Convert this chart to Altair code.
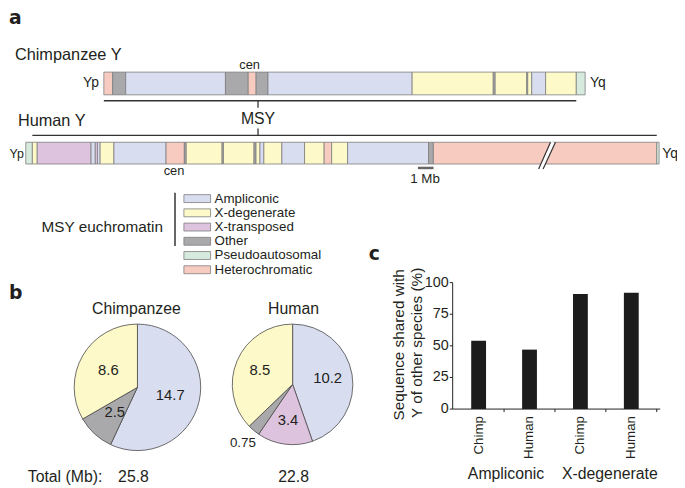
import math
import altair as alt
import pandas as pd

FONT = "Liberation Sans"
BOLD_FONT = "DejaVu Sans"
INK = "#231f20"
EDGE = "#7d7d7d"

# ---------------- data ----------------
CLASSES = ["Ampliconic", "X-degenerate", "X-transposed", "Other",
           "Pseudoautosomal", "Heterochromatic"]
CLASS_COLORS = ["#d8ddef", "#fdf9c8", "#dec3de", "#a9a9ab", "#d6ebdd", "#f7cbc0"]

# Chimpanzee Y segments, Mb from the Yp end (as drawn)
CHIMP_START = [0.0, 0.56, 1.38, 7.69, 9.13, 9.63, 10.38, 19.50, 24.63, 24.75,
               26.75, 26.81, 27.06, 27.94, 29.88]
CHIMP_END = CHIMP_START[1:] + [30.44]
CHIMP_CLASS = ["Heterochromatic", "Other", "Ampliconic", "Other", "Heterochromatic",
               "Other", "Ampliconic", "X-degenerate", "Other", "X-degenerate",
               "Other", "X-degenerate", "Ampliconic", "X-degenerate", "Pseudoautosomal"]

# Human Y segments, Mb from the Yp end (heterochromatin shown truncated)
HUMAN_START = [0.0, 0.42, 0.73, 4.17, 4.44, 4.58, 4.75, 5.63, 8.96, 10.13, 10.25,
               12.54, 12.63, 14.58, 14.71, 14.96, 15.21, 16.36, 17.81, 19.06, 19.54,
               20.56, 25.73, 26.04, 40.31]
HUMAN_END = HUMAN_START[1:] + [40.46]
HUMAN_CLASS = ["Pseudoautosomal", "X-degenerate", "X-transposed", "Ampliconic",
               "X-transposed", "Ampliconic", "X-degenerate", "Ampliconic",
               "Heterochromatic", "Other", "X-degenerate", "Other", "X-degenerate",
               "Other", "X-degenerate", "Ampliconic", "X-degenerate", "Ampliconic",
               "X-degenerate", "Heterochromatic", "X-degenerate", "Ampliconic",
               "Other", "Heterochromatic", "Pseudoautosomal"]

SCALE_BAR_START = 25.05
SCALE_BAR_LEN = 1.0

# Panel b: MSY euchromatin composition (Mb)
CHIMP_PIE_CLASS = ["Ampliconic", "Other", "X-degenerate"]
CHIMP_PIE_MB = [14.7, 2.5, 8.6]
HUMAN_PIE_CLASS = ["Ampliconic", "X-transposed", "Other", "X-degenerate"]
HUMAN_PIE_MB = [10.2, 3.4, 0.75, 8.5]
TOTAL_LABELS = ["25.8", "22.8"]

# Panel c: sequence shared with Y of other species (%)
C_GROUP = ["Ampliconic", "Ampliconic", "X-degenerate", "X-degenerate"]
C_SPECIES = ["Chimp", "Human", "Chimp", "Human"]
C_PCT = [54, 47, 91, 92]
C_TICKS = [0, 25, 50, 75, 100]

# ---------------- layout ----------------
W, H = 677, 480
CHIMP_MB_PX = 16.0
HUMAN_MB_PX = 15.84


def color_enc():
    return alt.Color("cls:N", scale=alt.Scale(domain=CLASSES, range=CLASS_COLORS),
                     legend=None)


def txt(s, x, y, size=16, align="left", baseline="alphabetic", angle=0,
        font=FONT, weight="normal"):
    return alt.Chart(pd.DataFrame({"t": [s]})).mark_text(
        align=align, baseline=baseline, angle=angle, font=font, fontSize=size,
        fontWeight=weight, color=INK
    ).encode(x=alt.value(x), y=alt.value(y), text="t:N")


def seg(x1, y1, x2, y2, color, w):
    return alt.Chart(pd.DataFrame({"a": [0]})).mark_rule(
        color=color, strokeWidth=w).encode(
        x=alt.value(x1), y=alt.value(y1), x2=alt.value(x2), y2=alt.value(y2))


def chrom(start, end, cls, x0, px_per_mb, ytop, ybot, line_y):
    df = pd.DataFrame({"start": start, "end": end, "cls": cls})
    sc = alt.Scale(domain=[0, 40], range=[x0, x0 + 40 * px_per_mb], nice=False,
                   zero=False)
    base = alt.Chart(df)
    rects = base.mark_rect(stroke=EDGE, strokeWidth=0.8).encode(
        x=alt.X("start:Q", scale=sc, axis=None), x2="end:Q",
        y=alt.value(ytop), y2=alt.value(ybot), color=color_enc())
    line = base.transform_filter("datum.cls != 'Pseudoautosomal'").transform_aggregate(
        lo="min(start)", hi="max(end)").mark_rule(color="#333333", strokeWidth=1.3).encode(
        x=alt.X("lo:Q", scale=sc, axis=None), x2="hi:Q", y=alt.value(line_y))
    return rects, line, sc


def pie(cls, mb, cx, cy, r, inner_r, outer_r):
    df = pd.DataFrame({"cls": cls, "mb": mb, "idx": list(range(len(cls)))})
    total = float(sum(mb))
    base = alt.Chart(df)
    arcs = base.mark_arc(outerRadius=r, stroke="#4a4a4a", strokeWidth=0.8).encode(
        x=alt.value(cx), y=alt.value(cy),
        theta=alt.Theta("mb:Q", stack=True),
        order=alt.Order("idx:Q"),
        color=color_enc())
    lab = base.transform_window(
        cum="sum(mb)", sort=[alt.SortField("idx", order="ascending")]
    ).transform_calculate(mid="datum.cum - datum.mb / 2")
    th = alt.Theta("mid:Q", scale=alt.Scale(domain=[0, total], range=[0, 2 * math.pi]),
                   stack=None)
    inside = lab.transform_filter("datum.mb >= 1").mark_text(
        radius=inner_r, font=FONT, fontSize=15, color=INK, align="center",
        baseline="middle").encode(
        x=alt.value(cx), y=alt.value(cy), theta=th,
        text=alt.Text("mb:Q", format="~g"))
    outside = lab.transform_filter("datum.mb < 1").mark_text(
        radius=outer_r, font=FONT, fontSize=13.5, color=INK, align="center",
        baseline="middle").encode(
        x=alt.value(cx), y=alt.value(cy), theta=th,
        text=alt.Text("mb:Q", format="~g"))
    return [arcs, inside, outside]


layers = []

# ---- panel a ----
layers.append(txt("a", 1, 13, size=19, font=BOLD_FONT, weight="bold"))
layers.append(txt("Chimpanzee Y", 7, 50, size=16.5))
c_rects, c_line, c_sc = chrom(CHIMP_START, CHIMP_END, CHIMP_CLASS, 97, CHIMP_MB_PX,
                              62, 85, 91)
layers += [c_rects, c_line]
layers.append(txt("Yp", 92, 77, size=14, align="right"))
layers.append(txt("Yq", 589, 77, size=14))
layers.append(txt("cen", 244.5, 59, size=13, align="center"))
layers.append(seg(253, 91, 253, 98, "#333333", 1.3))
layers.append(txt("MSY", 253, 115, size=16, align="center"))
layers.append(seg(253, 119, 253, 126, "#333333", 1.3))
layers.append(txt("Human Y", 10, 117, size=16.5))

h_rects, h_line, h_sc = chrom(HUMAN_START, HUMAN_END, HUMAN_CLASS, 18, HUMAN_MB_PX,
                              133, 155, 126)
layers += [h_rects, h_line]
# break marks on the truncated heterochromatin
layers.append(seg(539.3, 160, 551.5, 133, "white", 4.2))
layers.append(seg(537, 160, 549, 133, "#333333", 1.2))
layers.append(seg(541.5, 160, 554, 133, "#333333", 1.2))
layers.append(txt("Yp", 16, 149, size=12.5, align="right"))
layers.append(txt("Yq", 662, 149, size=14))
layers.append(txt("cen", 168, 166, size=13, align="center"))
sb = alt.Chart(pd.DataFrame({"s": [SCALE_BAR_START],
                             "e": [SCALE_BAR_START + SCALE_BAR_LEN]})).mark_rule(
    color="#666666", strokeWidth=2.5).encode(
    x=alt.X("s:Q", scale=h_sc, axis=None), x2="e:Q", y=alt.value(159))
layers.append(sb)
layers.append(txt("1 Mb", 422, 174, size=13.5, align="center"))

# legend
ldf = pd.DataFrame({"cls": CLASSES})
lsc = alt.Scale(type="band", domain=CLASSES, range=[186, 266],
                paddingInner=0.444, paddingOuter=0)
layers.append(alt.Chart(ldf).mark_rect(stroke=EDGE, strokeWidth=0.8).encode(
    y=alt.Y("cls:N", scale=lsc, axis=None), x=alt.value(178), x2=alt.value(205),
    color=color_enc()))
layers.append(alt.Chart(ldf).mark_text(
    align="left", baseline="middle", font=FONT, fontSize=13.5, color=INK).encode(
    y=alt.Y("cls:N", scale=lsc, axis=None), x=alt.value(209), text="cls:N"))
layers.append(seg(169, 184, 169, 238, "#333333", 1.5))
layers.append(txt("MSY euchromatin", 34, 224, size=15.5))

# ---- panel b ----
layers.append(txt("b", 1, 292, size=19, font=BOLD_FONT, weight="bold"))
layers.append(txt("Chimpanzee", 130, 307, size=16, align="center"))
layers.append(txt("Human", 289, 307, size=16, align="center"))
layers += pie(CHIMP_PIE_CLASS, CHIMP_PIE_MB, 131, 381, 64, 34, 78)
layers += pie(HUMAN_PIE_CLASS, HUMAN_PIE_MB, 288, 378, 61, 36, 78)
layers.append(txt("Total (Mb):", 20, 477, size=16))
layers.append(txt(TOTAL_LABELS[0], 127, 477, size=16, align="center"))
layers.append(txt(TOTAL_LABELS[1], 289, 477, size=16, align="center"))

# ---- panel c ----
layers.append(txt("c", 365, 252, size=19, font=BOLD_FONT, weight="bold"))
cdf = pd.DataFrame({"group": C_GROUP, "species": C_SPECIES, "pct": C_PCT})
keys = [f"{g}|{s}" for g, s in zip(C_GROUP, C_SPECIES)]
cbase = alt.Chart(cdf).transform_calculate(key="datum.group + '|' + datum.species")
xband = alt.Scale(type="band", domain=keys, range=[450.5, 656.5],
                  paddingInner=0, paddingOuter=0)
ysc = alt.Scale(domain=[0, 100], range=[403, 275], nice=False, zero=True)
layers.append(cbase.mark_bar(width=15, color="#1c1c1c").encode(
    x=alt.X("key:N", scale=xband, axis=None),
    y=alt.Y("pct:Q", scale=ysc, axis=None)))
layers.append(cbase.mark_text(
    angle=270, align="right", baseline="middle", font=FONT, fontSize=13.5,
    color=INK).encode(
    x=alt.X("key:N", scale=xband, axis=None), y=alt.value(410), text="species:N"))
layers.append(cbase.mark_rule(color=INK, strokeWidth=1).encode(
    x=alt.X("key:N", scale=xband, axis=None, bandPosition=1),
    y=alt.value(403), y2=alt.value(406)))
tdf = pd.DataFrame({"v": C_TICKS})
layers.append(alt.Chart(tdf).mark_rule(color=INK, strokeWidth=1).encode(
    y=alt.Y("v:Q", scale=ysc, axis=None), x=alt.value(447), x2=alt.value(450)))
layers.append(alt.Chart(tdf).mark_text(
    align="right", baseline="middle", font=FONT, fontSize=14.5, color=INK).encode(
    y=alt.Y("v:Q", scale=ysc, axis=None), x=alt.value(446), text="v:Q"))
layers.append(alt.Chart(tdf).transform_aggregate(lo="min(v)", hi="max(v)").mark_rule(
    color=INK, strokeWidth=1).encode(
    y=alt.Y("lo:Q", scale=ysc, axis=None), y2="hi:Q", x=alt.value(450)))
layers.append(seg(450, 403, 660, 403, INK, 1))
layers.append(txt("Sequence shared with", 396, 338, size=15.5, align="center",
                  baseline="middle", angle=270))
layers.append(txt("Y of other species (%)", 413.5, 336, size=15.5, align="center",
                  baseline="middle", angle=270))
layers.append(txt("Ampliconic", 504, 474, size=16, align="center"))
layers.append(txt("X-degenerate", 609, 474, size=16, align="center"))

chart = alt.layer(*layers).resolve_scale(
    x="independent", y="independent", color="independent", theta="independent"
).properties(
    width=W, height=H, padding=0, autosize=alt.AutoSizeParams(type="none")
).configure_view(stroke=None)

chart.save("out.html", embed_options={"renderer": "svg", "actions": False})
